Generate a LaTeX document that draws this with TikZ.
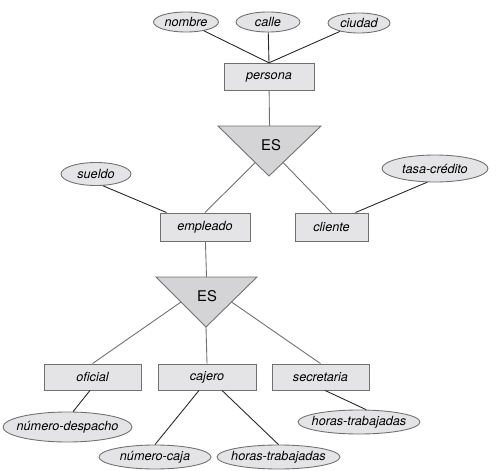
\documentclass[tikz,border=0pt]{standalone}
\usepackage{fontspec}
\setmainfont{TeX Gyre Heros}
\usetikzlibrary{shapes.geometric, calc}

\definecolor{boxfill}{HTML}{E4E4E6}
\definecolor{esfill}{HTML}{D4D4D6}
\definecolor{rim}{HTML}{707070}

\tikzset{
  entity/.style={draw=rim, fill=boxfill, line width=0.5pt, minimum width=1.8cm, minimum height=0.55cm, inner sep=0pt, font=\fontsize{7.2}{8.6}\selectfont\itshape},
  attrib/.style={ellipse, draw=rim, fill=boxfill, line width=0.5pt, inner xsep=-0.25cm, inner ysep=0pt, font=\fontsize{7.2}{8.6}\selectfont\itshape},
  isa/.style={draw=rim, fill=esfill, line width=0.5pt},
  attlink/.style={draw=black!85, line width=0.5pt},
  isalink/.style={draw=rim, line width=0.5pt}
}

\begin{document}
\begin{tikzpicture}
    \useasboundingbox (0, 0) rectangle (9.98, 9.4);

    % persona and its attributes
    \node [attrib, minimum width=1.3cm, minimum height=0.4cm] (nombre) at (3.72, 8.96) {nombre};
    \node [attrib, minimum width=1.28cm, minimum height=0.4cm] (calle) at (5.36, 8.96) {calle};
    \node [attrib, minimum width=1.24cm, minimum height=0.4cm] (ciudad) at (7.18, 8.94) {ciudad};
    \node [entity] (persona) at (5.38, 7.86) {persona};
    \draw [attlink] (nombre) -- (persona.north);
    \draw [attlink] (calle) -- (persona.north);
    \draw [attlink] (ciudad) -- (persona.north);

    % first ES triangle
    \coordinate (es1l) at (4.36, 6.88);
    \coordinate (es1r) at (6.42, 6.88);
    \coordinate (es1b) at (5.38, 5.88);
    \coordinate (es1t) at ($(es1l)!0.5!(es1r)$);
    \coordinate (es1sl) at ($(es1l)!0.73!(es1b)$);
    \coordinate (es1sr) at ($(es1r)!0.73!(es1b)$);
    \draw [isalink] (persona) -- (es1t);
    \draw [isa] (es1l) -- (es1r) -- (es1b) -- cycle;
    \node [font=\fontsize{8.4}{10}\selectfont] (es1) at (5.42, 6.5) {ES};

    % empleado, cliente
    \node [entity, minimum height=0.56cm] (empleado) at (4.1, 4.86) {empleado};
    \node [entity, minimum width=1.46cm, minimum height=0.56cm] (cliente) at (6.63, 4.86) {cliente};
    \node [attrib, minimum width=1.4cm, minimum height=0.46cm] (sueldo) at (1.92, 5.92) {sueldo};
    \node [attrib, minimum width=2.12cm, minimum height=0.54cm] (tasa) at (8.7, 6.03) {tasa-crédito};
    \draw [isalink] (empleado.north) -- (es1sl);
    \draw [isalink] (cliente.north) -- (es1sr);
    \draw [attlink] (sueldo.-60) -- ($(empleado.north west)+(0.14, 0)$);
    \draw [attlink] (tasa.-120) -- ($(cliente.north east)+(-0.26, 0)$);

    % second ES triangle
    \coordinate (es2l) at (3.12, 3.86);
    \coordinate (es2r) at (5.14, 3.86);
    \coordinate (es2b) at (4.12, 2.86);
    \coordinate (es2t) at ($(es2l)!0.5!(es2r)$);
    \coordinate (es2sl) at ($(es2l)!0.5!(es2b)$);
    \coordinate (es2sr) at ($(es2r)!0.5!(es2b)$);
    \draw [isalink] (empleado) -- (es2t);
    \draw [isa] (es2l) -- (es2r) -- (es2b) -- cycle;
    \node [font=\fontsize{8.4}{10}\selectfont] (es2) at (4.14, 3.48) {ES};

    % oficial, cajero, secretaria
    \node [entity, minimum width=1.94cm, minimum height=0.52cm] (oficial) at (1.85, 1.86) {oficial};
    \node [entity, minimum width=1.96cm, minimum height=0.52cm] (cajero) at (4.14, 1.86) {cajero};
    \node [entity, minimum width=1.94cm, minimum height=0.52cm] (secretaria) at (6.41, 1.86) {secretaria};
    \draw [isalink] (oficial.north) -- (es2sl);
    \draw [isalink] (cajero.north) -- (es2b);
    \draw [isalink] (secretaria.north) -- (es2sr);

    \node [attrib, minimum width=2.58cm, minimum height=0.6cm] (despacho) at (1.35, 0.86) {número-despacho};
    \node [attrib, minimum width=2.24cm, minimum height=0.48cm] (caja) at (3.1, 0.26) {número-caja};
    \node [attrib, minimum width=2.46cm, minimum height=0.48cm] (horasc) at (5.57, 0.26) {horas-trabajadas};
    \node [attrib, minimum width=2.44cm, minimum height=0.48cm] (horass) at (7.18, 0.96) {horas-trabajadas};
    \draw [attlink] ($(oficial.south)+(-0.05, 0)$) -- (despacho.70);
    \draw [attlink] ($(cajero.south)+(-0.16, 0)$) -- (caja.north);
    \draw [attlink] ($(cajero.south)+(0.3, 0)$) -- (horasc.north);
    \draw [attlink] ($(secretaria.south)+(0.09, 0)$) -- (horass.60);
\end{tikzpicture}
\end{document}
